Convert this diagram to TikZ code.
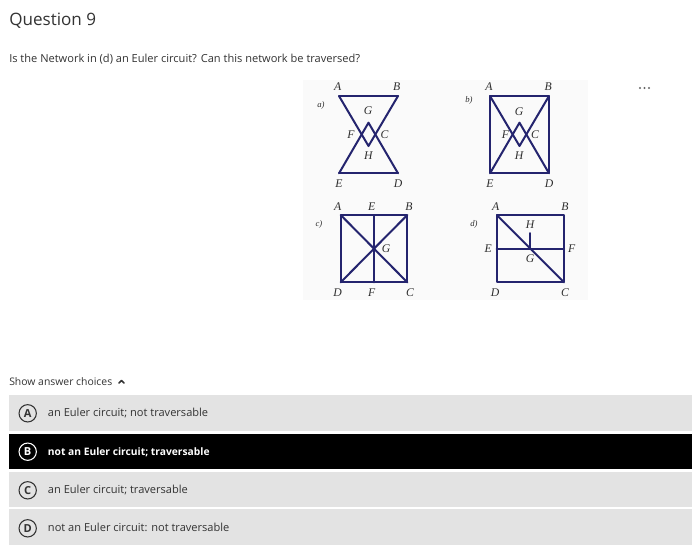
\documentclass[tikz,border=0pt]{standalone}
\usepackage{fontspec}
\setmainfont{Open Sans}
\newfontfamily\grfont{Liberation Serif}
\definecolor{navy}{HTML}{24246E}
\definecolor{lbl}{HTML}{2E2E2E}
\definecolor{boxgray}{HTML}{E3E3E3}
\definecolor{txt}{HTML}{333333}
\begin{document}
\begin{tikzpicture}[x=0.75pt,y=-0.75pt,
  edge/.style={draw=navy,line width=1.5pt,line join=round,line cap=round},
  vl/.style={font=\grfont\itshape\fontsize{8.8}{10}\selectfont,text=lbl,inner sep=0pt},
  pl/.style={font=\grfont\itshape\fontsize{6.5}{7}\selectfont,text=lbl,inner sep=0pt},
  qtext/.style={anchor=base west,inner sep=0pt,text=txt,font=\fontsize{8.3}{10}\selectfont},
  circ/.style={circle,draw=txt,line width=0.8pt,minimum size=13pt,inner sep=0pt,font=\bfseries\fontsize{8.3}{9}\selectfont,text=txt},
]
\useasboundingbox (0,0) rectangle (692,550);
\fill[white] (0,0) rectangle (692,550);

% header
\node[anchor=base west,inner sep=0pt,text=txt,font=\fontsize{12.8}{15}\selectfont] (title) at (9,25) {Question 9};
\node[qtext] (q) at (9,62) {Is the Network in (d) an Euler circuit? Can this network be traversed?};

% image background
\fill[gray!4] (303,80) rectangle (588,300);

% dots
\foreach \i/\xx in {1/640,2/644.5,3/649} \fill[gray!80!black] (\xx,88) circle (1.1);

% ---------- panel a ----------
\coordinate (aA) at (339,96);
\coordinate (aB) at (398,96);
\coordinate (aE) at (339,173.3);
\coordinate (aD) at (398,173.3);
\coordinate (aG) at (368.5,122.7);
\coordinate (aH) at (368.5,146);
\draw[edge] (aA) -- (aB);
\draw[edge] (aE) -- (aD);
\draw[edge] (aA) -- (aH) -- (aB);
\draw[edge] (aE) -- (aG) -- (aD);
\node[vl] (laA) at (337.7,86.7) {A};
\node[vl] (laB) at (396.7,86.7) {B};
\node[vl] (laG) at (368,111) {G};
\node[vl] (laH) at (368.3,156) {H};
\node[vl] (laF) at (351,135) {F};
\node[vl] (laC) at (384.5,135) {C};
\node[vl] (laE) at (339,183.5) {E};
\node[vl] (laD) at (398,183.5) {D};
\node[pl] (pa) at (321,105) {a)};

% ---------- panel b ----------
\coordinate (bA) at (490,96);
\coordinate (bB) at (549,96);
\coordinate (bE) at (490,173.3);
\coordinate (bD) at (549,173.3);
\coordinate (bG) at (519.5,122.7);
\coordinate (bH) at (519.5,146);
\draw[edge] (bA) -- (bB) -- (bD) -- (bE) -- cycle;
\draw[edge] (bA) -- (bH) -- (bB);
\draw[edge] (bE) -- (bG) -- (bD);
\node[vl] (lbA) at (489,86.7) {A};
\node[vl] (lbB) at (548.3,86.7) {B};
\node[vl] (lbG) at (519,112) {G};
\node[vl] (lbH) at (519,155.7) {H};
\node[vl] (lbF) at (505.5,135) {F};
\node[vl] (lbC) at (535,135) {C};
\node[vl] (lbE) at (490,183.5) {E};
\node[vl] (lbD) at (549,183.5) {D};
\node[pl] (pb) at (469,100) {b)};

% ---------- panel c ----------
\coordinate (cA) at (340.7,215);
\coordinate (cB) at (407.3,215);
\coordinate (cC) at (407.3,282.3);
\coordinate (cD) at (340.7,282.3);
\coordinate (cE) at (374,215);
\coordinate (cF) at (374,282.3);
\coordinate (cG) at (374,248.7);
\draw[edge] (cA) -- (cB) -- (cC) -- (cD) -- cycle;
\draw[edge] (cA) -- (cC);
\draw[edge] (cB) -- (cD);
\draw[edge] (cE) -- (cF);
\node[vl] (lcA) at (337.7,206.7) {A};
\node[vl] (lcE) at (371.7,206.7) {E};
\node[vl] (lcB) at (409,206.7) {B};
\node[vl] (lcG) at (386,248.3) {G};
\node[vl] (lcD) at (337.7,292.3) {D};
\node[vl] (lcF) at (371.7,292.3) {F};
\node[vl] (lcC) at (410,292.3) {C};
\node[pl] (pc) at (319,224.3) {c)};

% ---------- panel d ----------
\coordinate (dA) at (496.7,215);
\coordinate (dB) at (564,215);
\coordinate (dC) at (564,282.3);
\coordinate (dD) at (496.7,282.3);
\coordinate (dE) at (496.7,248.7);
\coordinate (dF) at (564,248.7);
\coordinate (dG) at (530.3,248.7);
\coordinate (dH) at (530.3,233);
\draw[edge] (dA) -- (dB) -- (dC) -- (dD) -- cycle;
\draw[edge] (dA) -- (dC);
\draw[edge] (dE) -- (dF);
\draw[edge] (dG) -- (dH);
\node[vl] (ldA) at (495.7,206.7) {A};
\node[vl] (ldB) at (565,206.7) {B};
\node[vl] (ldH) at (530,224.3) {H};
\node[vl] (ldG) at (530,259) {G};
\node[vl] (ldE) at (488.3,248.3) {E};
\node[vl] (ldF) at (571.7,248.3) {F};
\node[vl] (ldD) at (495,292.3) {D};
\node[vl] (ldC) at (565,292.3) {C};
\node[pl] (pd) at (474,224.3) {d)};

% ---------- answers ----------
\node[qtext,font=\fontsize{7.8}{10}\selectfont] (show) at (9,385) {Show answer choices};
\draw[txt,line width=1.1pt,line cap=round,line join=round] (119,383) -- (121.5,380.5) -- (124,383);

\fill[boxgray] (9,395) rectangle (692,430.7);
\fill[black] (9,434) rectangle (692,469);
\fill[boxgray] (9,471.7) rectangle (692,506.7);
\fill[boxgray] (9,509.3) rectangle (692,545);

\node[circ] (cirA) at (27.7,413.3) {A};
\node[qtext] (ansA) at (47.7,416.8) {an Euler circuit; not traversable};
\node[circ,draw=white,text=white] (cirB) at (27.7,451.7) {B};
\node[qtext,text=white,font=\bfseries\fontsize{7.7}{10}\selectfont] (ansB) at (47.7,455.2) {not an Euler circuit; traversable};
\node[circ] (cirC) at (27.7,490.3) {C};
\node[qtext] (ansC) at (47.7,493.8) {an Euler circuit; traversable};
\node[circ] (cirD) at (27.7,528.3) {D};
\node[qtext] (ansD) at (47.7,531.8) {not an Euler circuit: not traversable};
\end{tikzpicture}
\end{document}
